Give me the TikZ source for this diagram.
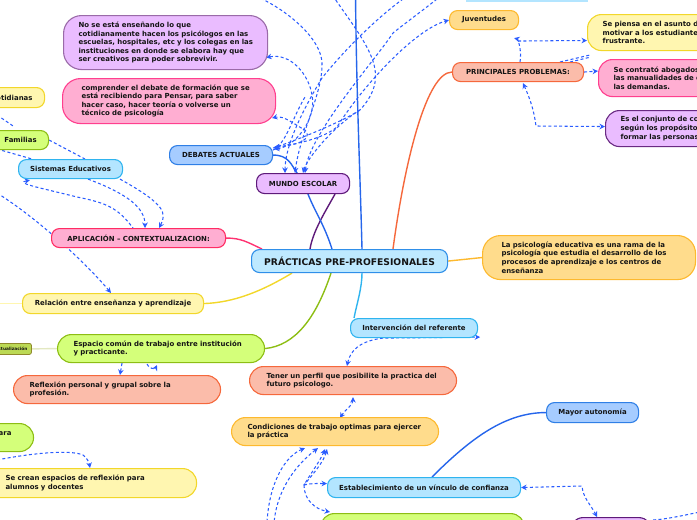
\documentclass[tikz,border=0pt]{standalone}
\usepackage{fontspec}
\setmainfont{DejaVu Sans}
\usetikzlibrary{arrows.meta,backgrounds}
\definecolor{inkc}{HTML}{141414}
\definecolor{dashc}{HTML}{2A5CFF}
\definecolor{lilacf}{HTML}{EABCFF}
\definecolor{pinkf}{HTML}{FFAED2}
\definecolor{yellowf}{HTML}{FFF6B0}
\definecolor{greenf}{HTML}{D4FF7A}
\definecolor{bluef}{HTML}{B3E5FF}
\definecolor{deepf}{HTML}{A6CCFF}
\definecolor{orangef}{HTML}{FFDC8C}
\definecolor{salmonf}{HTML}{FBBCAA}
\definecolor{lilacd}{HTML}{9A6AA8}
\definecolor{purpled}{HTML}{5E1A7A}
\definecolor{pinkd}{HTML}{FF3F8E}
\definecolor{yellowd}{HTML}{F2D72A}
\definecolor{greend}{HTML}{8DBE14}
\definecolor{blued}{HTML}{2FB4EF}
\definecolor{deepd}{HTML}{2F7FE6}
\definecolor{oranged}{HTML}{FDB92E}
\definecolor{salmond}{HTML}{F5683C}
\tikzset{
  x=1pt,y=-1pt,
  mm/.style={draw,line width=1.1pt,text=inkc,anchor=north west,inner ysep=0pt,
    font=\fontsize{6.95}{8.6}\selectfont\bfseries},
  one/.style n args={2}{mm,minimum width=#1,minimum height=#2,align=center,inner xsep=0pt,rounded corners=8pt},
  many/.style n args={3}{mm,minimum width=#1,minimum height=#2,align=left,text width=#1-2*#3,inner xsep=#3,rounded corners=14pt},
  lilac/.style={fill=lilacf,draw=lilacd},
  pink/.style={fill=pinkf,draw=pinkd},
  yellowb/.style={fill=yellowf,draw=yellowd},
  greenb/.style={fill=greenf,draw=greend},
  blueb/.style={fill=bluef,draw=blued},
  deepb/.style={fill=deepf,draw=deepd},
  orangeb/.style={fill=orangef,draw=oranged},
  salmonb/.style={fill=salmonf,draw=salmond},
  dl/.style={draw=dashc,dash pattern=on 3pt off 2.4pt,line width=1.05pt},
  tipb/.style={-{Stealth[length=5.5pt,width=5.5pt]}},
  tipf/.style={{Stealth[length=5.5pt,width=5.5pt]}-},
  tipbb/.style={{Stealth[length=5.5pt,width=5.5pt]}-{Stealth[length=5.5pt,width=5.5pt]}},
  sl/.style={line width=1.4pt},
}
\begin{document}
\begin{tikzpicture}
\useasboundingbox (0,0) rectangle (697,520);
% nodes
\node[many={204pt}{54pt}{12pt},lilac,rounded corners=18pt] (nose) at (63,15) {\hspace*{3pt}No se está enseñando lo que\\\hspace*{3pt}cotidianamente hacen los psicólogos en las\\\hspace*{3pt}escuelas, hospitales, etc y los colegas en las\\\hspace*{3pt}instituciones en donde se elabora hay que\\\hspace*{3pt}ser creativos para poder sobrevivir.};
\node[many={213pt}{45pt}{19pt},pink,rounded corners=18pt] (compr) at (62,78) {comprender el debate de formación que se\\está recibiendo para Pensar, para saber\\hacer caso, hacer teoría o volverse un\\técnico de psicología};
\node[one={100pt}{20pt},yellowb,align=right,text width=76pt] (coti) at (-56,87) {Cotidianas};
\node[one={68pt}{19pt},greenb] (fam) at (-20,130) {\hspace*{12pt}Familias};
\node[one={104pt}{19pt},blueb] (sist) at (18,159) {Sistemas Educativos};
\node[one={174pt}{19pt},pink,draw=pinkd!70!red] (apli) at (51,228) {APLICACIÓN – CONTEXTUALIZACION:};
\node[one={103pt}{19pt},deepb] (deb) at (169,145) {DEBATES ACTUALES};
\node[one={93pt}{20pt},lilac,draw=purpled] (mundo) at (256,173) {MUNDO ESCOLAR};
\node[one={69pt}{19pt},orangeb] (juv) at (449,10) {Juventudes};
\node[one={131pt}{19pt},salmonb] (prob) at (452,62) {PRINCIPALES PROBLEMAS:};
\node[many={200pt}{36pt}{15pt},yellowb] (piensa) at (587,14) {Se piensa en el asunto de\\motivar a los estudiantes\\frustrante.};
\node[many={200pt}{37pt}{15pt},pink] (contr) at (598,59) {Se contrató abogados\\las manualidades de e\\las demandas.};
\node[many={200pt}{36pt}{15pt},lilac,draw=purpled!80!lilacd] (conj) at (605,110) {Es el conjunto de co\\según los propósito\\formar las personas};
\node[many={213pt}{44pt}{19pt},orangeb,rounded corners=18pt] (psico) at (482,235) {La psicología educativa es una rama de la\\psicología que estudia el desarrollo de los\\procesos de aprendizaje e los centros de\\enseñanza};
\node[one={196pt}{23pt},fill=bluef!85!white,draw=deepd!70!blued,font=\fontsize{9.2}{10}\selectfont\bfseries] (prac) at (251,249) {PRÁCTICAS PRE-PROFESIONALES};
\node[one={127pt}{19pt},blueb] (inter) at (350,318) {Intervención del referente};
\node[many={207pt}{28pt}{17pt},salmonb] (perfil) at (249,366) {Tener un perfil que posibilite la practica del\\futuro psicologo.};
\node[many={207pt}{28pt}{16pt},orangeb] (cond) at (231,417) {Condiciones de trabajo optimas para ejercer\\la práctica};
\node[one={92pt}{20pt},deepb] (auto) at (546,402) {Mayor autonomía};
\node[one={193pt}{20pt},blueb] (vinc) at (327,477) {Establecimiento de un vínculo de confianza};
\node[many={204pt}{30pt}{16pt},greenb] (gbot) at (320,513) {~};
\node[many={83pt}{30pt}{10pt},lilac,draw=purpled] (pbot) at (569,517) {~};
\node[many={207pt}{28pt}{16pt},greenb] (esp) at (57,334) {Espacio común de trabajo entre institución\\y practicante.};
\node[many={207pt}{28pt}{16pt},salmonb] (refl) at (13,375) {Reflexión personal y grupal sobre la\\profesión.};
\node[mm,line width=.8pt,fill=greenf!70!olive,draw=olive!70!gray,minimum width=60pt,minimum height=11pt,inner xsep=4pt,align=right,text width=52pt,rounded corners=2pt,font=\fontsize{4.3}{5}\selectfont\bfseries] (ctx) at (-29,343) {Contextualización};
\node[many={100pt}{28pt}{22pt},greenb,align=right] (para) at (-67,423) {para\\~};
\node[many={226pt}{29pt}{35pt},yellowb] (crean) at (-30,468) {Se crean espacios de reflexión para\\alumnos y docentes};
\node[one={181pt}{20pt},yellowb] (rel) at (22,293) {Relación entre enseñanza y aprendizaje};
\node[mm,fill=bluef,draw=none,minimum width=122pt,minimum height=22pt,inner xsep=0pt] (topb) at (465,-21) {};
% off-page ends
\coordinate (upc) at (355.5,-5);
\coordinate (t1) at (262,-1);
\coordinate (t2) at (335,-1);
\coordinate (t3) at (403,-1);
\coordinate (t4) at (437,-1);
\coordinate (l0) at (-3,193);
\coordinate (l1) at (-3,115);
\coordinate (l2) at (-3,149);
\coordinate (l3) at (-3,460);
\coordinate (r1) at (700,512);
\coordinate (b1) at (267,523);
\coordinate (b2) at (274,523);
\coordinate (junc) at (304,485);
\begin{scope}[on background layer]
% solid branches
\draw[sl,color=deepd!80!blue] ([xshift=111pt]prac.north west) .. controls +(-2,-80) and +(1,100) .. (upc);
\draw[sl,purpled] ([xshift=59pt]prac.north west) .. controls +(3,-18) and +(-10,18) .. ([xshift=79pt]mundo.south west);
\draw[sl,deepd!80!blue] ([xshift=81pt]prac.north west) .. controls +(-8,-25) and +(8,20) .. ([xshift=52pt]mundo.south west) -- ([xshift=41pt]mundo.north west) .. controls +(-6,-9) and +(15,0) .. (deb.east);
\draw[sl,pinkd!80!red] (apli.east) .. controls +(15,0) and +(-15,-7) .. ([xshift=11pt]prac.north west);
\draw[sl,salmond] ([xshift=142pt]prac.north west) .. controls +(12,-90) and +(-25,0) .. (prob.west);
\draw[sl,oranged] (prac.east) -- (psico.west);
\draw[sl,yellowd] ([xshift=41pt]prac.south west) .. controls +(-30,18) and +(30,-1) .. (rel.east);
\draw[line width=1.1pt,yellowf] (rel.west) -- ++(-24,0);
\draw[sl,greend] ([xshift=80pt]prac.south west) .. controls +(-15,45) and +(30,-3) .. (esp.east);
\draw[line width=1.4pt,greenf!40!olive!30!white] (ctx.east) -- (esp.west);
\draw[sl,blued] ([xshift=111pt]prac.south west) .. controls +(0,15) and +(3,-15) .. ([xshift=4pt]inter.north west);
\draw[sl,deepd!80!blue] ([xshift=105pt]vinc.north west) .. controls +(40,-40) and +(-40,0) .. (auto.west);
% dashed top group
\draw[dl,tipf] ([xshift=39pt]mundo.north west) .. controls +(5,-40) and +(1,30) .. (322,63) .. controls +(-1,-25) and +(25,12) .. (t1);
\draw[dl,tipf] ([xshift=47pt]mundo.north west) .. controls +(4,-15) and +(-25,15) .. (360,110) .. controls +(32,-35) and +(35,50) .. (t2);
\draw[dl,tipf] ([xshift=29pt]mundo.north west) .. controls +(0,-30) and +(-15,25) .. (322,78) .. controls +(20,-25) and +(-30,22) .. (t3);
\draw[dl,tipf] ([xshift=49pt]mundo.north west) .. controls +(5,-40) and +(-20,30) .. (393,33) .. controls +(15,-12) and +(-15,12) .. (t4);
\draw[dl,tipbb] ([yshift=7pt,xshift=1pt]deb.east) .. controls +(25,-5) and +(-15,12) .. (337,127) .. controls +(25,-40) and +(-35,10) .. (juv.west);
\draw[dl,tipbb] ([yshift=6pt,xshift=1pt]deb.east) .. controls +(20,-2) and +(5,25) .. (312,95) .. controls +(-3,-20) and +(25,-5) .. ([yshift=-15pt,xshift=-2pt]nose.east);
\draw[dl,tipbb] ([yshift=8pt,xshift=1pt]deb.east) .. controls +(35,-3) and +(5,5) .. (305,130) .. controls +(-10,-5) and +(12,-3) .. ([yshift=-17pt,xshift=-4pt]compr.east);
\draw[dl] ([yshift=7pt]deb.east) .. controls +(30,-10) and +(-15,10) .. (360,110);
\draw[dl] ([yshift=5pt]deb.east) .. controls +(12,-5) and +(-12,20) .. (305,97);
% principal problems
\draw[dl,tipb] ([xshift=68pt]prob.north west) .. controls +(2,-10) and +(4,1) .. ([yshift=-8pt,xshift=-5pt]juv.south east);
\draw[dl,tipb] (518,41) .. controls +(25,0) and +(-30,0) .. ([yshift=-8pt]piensa.west);
\draw[dl] ([xshift=108pt]prob.north west) -- (590,55);
\draw[dl] ([xshift=118pt]prob.north west) -- (591,57);
\draw[dl,tipb] (prob.east) -- ([yshift=7pt]contr.west);
\draw[dl,tipbb] ([xshift=71pt,yshift=-1pt]prob.south west) .. controls +(8,18) and +(-2,-15) .. (536,126) -- ([yshift=2pt]conj.west);
% left group
\draw[dl,tipf] ([xshift=12pt,yshift=-1pt]sist.south west) .. controls +(-15,3) and +(-40,-10) .. (77,197) .. controls +(30,6) and +(-15,-20) .. ([xshift=82pt]apli.north west);
\draw[dl,tipb] ([xshift=70pt]sist.south west) .. controls +(40,15) and +(0,-20) .. ([xshift=94pt]apli.north west);
\draw[dl,tipb] ([xshift=102pt]sist.south west) .. controls +(45,25) and +(8,-15) .. ([xshift=108pt]apli.north west);
\draw[dl] (fam.east) -- ([xshift=67pt]sist.north west);
\draw[dl] (l1) -- ([yshift=3pt]fam.north);
\draw[dl] (l2) -- ([xshift=14pt]sist.north west);
\draw[dl,tipb] (l0) .. controls +(40,25) and +(-25,-30) .. ([xshift=89pt]rel.north west);
% lower left
\draw[dl,tipb] ([xshift=65pt]esp.south west) -- ([xshift=107pt]refl.north west);
\draw[dl,tipb] ([xshift=90pt,yshift=-1pt]esp.south west) .. controls +(2,5) and +(-2,4) .. ([xshift=100pt,yshift=-2pt]esp.south west);
\draw[dl,tipb] (l3) .. controls +(30,-6) and +(-14,-6) .. (83,455) .. controls +(4,3) and +(-1,-6) .. ([xshift=120pt]crean.north west);
% intervention -- profile -- conditions
\draw[dl,tipbb] ([xshift=98pt]perfil.north west) .. controls +(3,-14) and +(-25,3) .. ([xshift=33pt]inter.south west) -- ([xshift=2pt,yshift=1pt]inter.south east);
\draw[dl,tipbb] ([xshift=104pt,yshift=-2pt]perfil.south west) .. controls +(0,8) and +(5,-8) .. ([xshift=109pt,yshift=-1pt]cond.north west);
% bottom group
\draw[dl,tipf] ([xshift=74pt,yshift=-2pt]cond.south west) .. controls +(-20,8) and +(2,-40) .. (b1);
\draw[dl,tipf] ([xshift=87pt,yshift=-2pt]cond.south west) .. controls +(-20,15) and +(3,-35) .. (b2);
\draw[dl,tipf] ([xshift=94pt,yshift=-3pt]cond.south west) .. controls +(-5,12) and +(7,-12) .. (junc);
\draw[dl,tipf] ([xshift=96pt,yshift=-3pt]cond.south west) .. controls +(-3,12) and +(10,-12) .. (junc);
\draw[dl,tipb] (junc) .. controls +(8,-2) and +(-8,0) .. ([yshift=4pt]vinc.west);
\draw[dl,tipb] (junc) .. controls +(0,15) and +(-15,-3) .. ([xshift=10pt,yshift=1pt]gbot.north west);
\draw[dl,tipbb] (vinc.east) -- (582,486) .. controls +(1,12) and +(-6,-12) .. ([xshift=28pt]pbot.north west);
\draw[dl] ([yshift=-3pt]pbot.north east) .. controls +(15,-1) and +(-15,3) .. (r1);
\end{scope}
\end{tikzpicture}
\end{document}
